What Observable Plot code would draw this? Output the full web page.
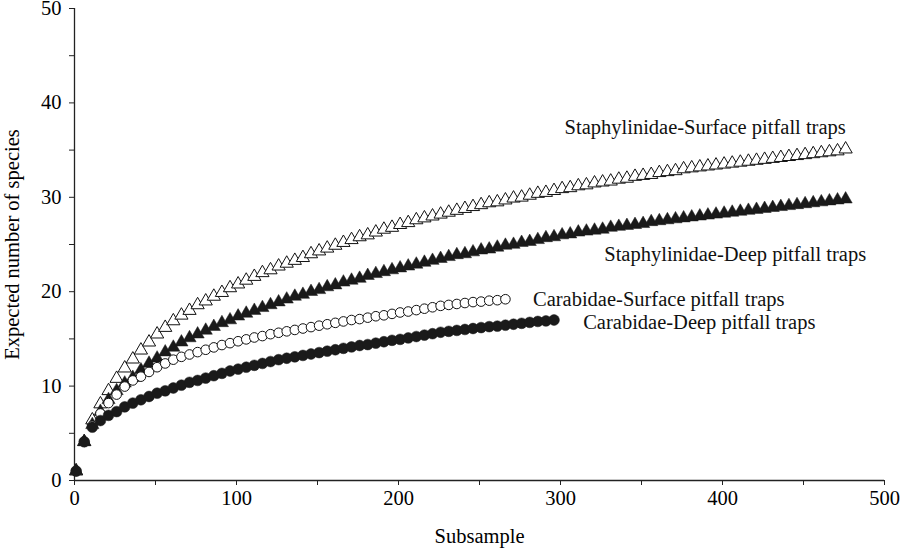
<!DOCTYPE html>
<html>
<head>
<meta charset="utf-8">
<script src="https://cdn.jsdelivr.net/npm/d3@7"></script>
<script src="https://cdn.jsdelivr.net/npm/@observablehq/plot@0.6"></script>
<style>
  html, body { margin: 0; padding: 0; background: #fff; }
  #chart svg { display: block; overflow: visible; }
  #chart svg text { font-family: 'Liberation Serif', 'Times New Roman', serif; }
</style>
</head>
<body>
<div id="chart"></div>
<script>
// Subsample sizes (every 5th individual from 1)
const subsampleStaph = d3.range(1, 477, 5);      // 1 … 476
const subsampleCaraSurface = d3.range(1, 267, 5); // 1 … 266
const subsampleCaraDeep = d3.range(1, 297, 5);    // 1 … 296

// Expected number of species (rarefaction)
const staphSurface = [
  1.0, 4.1, 6.4, 8.1, 9.5, 10.8, 11.9, 12.85, 13.8, 14.65, 15.5, 16.2, 16.9, 17.5, 18.0, 18.6,
  19.0, 19.5, 19.9, 20.4, 20.8, 21.2, 21.6, 22.0, 22.3, 22.7, 23.0, 23.3, 23.6, 24.0, 24.3,
  24.6, 24.9, 25.2, 25.5, 25.8, 26.0, 26.3, 26.6, 26.8, 27.1, 27.3, 27.6, 27.8, 28.0, 28.2,
  28.4, 28.6, 28.8, 29.0, 29.2, 29.4, 29.5, 29.7, 29.9, 30.0, 30.2, 30.4, 30.5, 30.7, 30.9,
  31.0, 31.2, 31.3, 31.5, 31.6, 31.7, 31.9, 32.0, 32.2, 32.3, 32.4, 32.6, 32.7, 32.8, 33.0, 33.1, 33.2,
  33.3, 33.4, 33.5, 33.6, 33.7, 33.8, 33.9, 34.0, 34.1, 34.2, 34.3, 34.4, 34.5, 34.6, 34.7, 34.8, 34.9, 35.1
];
const staphDeep = [
  1.0, 4.1, 5.9, 7.3, 8.55, 9.5, 10.3, 10.9, 11.7, 12.4, 12.95, 13.6, 14.1, 14.65, 15.1, 15.5,
  15.9, 16.3, 16.7, 17.0, 17.4, 17.7, 18.0, 18.3, 18.6, 18.9, 19.2, 19.5, 19.7, 20.0, 20.2,
  20.5, 20.7, 21.0, 21.2, 21.4, 21.7, 21.9, 22.1, 22.3, 22.5, 22.7, 22.9, 23.1, 23.3, 23.5,
  23.7, 23.9, 24.0, 24.2, 24.4, 24.5, 24.7, 24.9, 25.0, 25.2, 25.3, 25.5, 25.7, 25.8, 26.0,
  26.1, 26.3, 26.4, 26.5, 26.6, 26.8, 26.9, 27.0, 27.1, 27.2, 27.4, 27.5, 27.6, 27.7, 27.8, 27.9, 28.0,
  28.1, 28.2, 28.3, 28.4, 28.5, 28.6, 28.7, 28.8, 28.9, 29.0, 29.1, 29.2, 29.3, 29.4, 29.5, 29.6, 29.7, 29.8
];
const caraSurface = [
  1.0, 4.1, 5.8, 7.1, 8.2, 9.1, 9.95, 10.6, 11.0, 11.5, 12.0, 12.4, 12.8, 13.1, 13.35, 13.6,
  13.85, 14.1, 14.35, 14.55, 14.75, 14.95, 15.15, 15.3, 15.5, 15.65, 15.8, 15.95, 16.1, 16.25, 16.4,
  16.55, 16.7, 16.85, 17.0, 17.1, 17.25, 17.4, 17.5, 17.65, 17.8, 17.9, 18.05, 18.2, 18.35, 18.5,
  18.6, 18.7, 18.8, 18.9, 18.95, 19.05, 19.1, 19.2
];
const caraDeep = [
  1.0, 4.1, 5.65, 6.35, 6.9, 7.3, 7.8, 8.2, 8.55, 8.9, 9.25, 9.5, 9.8, 10.1, 10.4, 10.6,
  10.85, 11.1, 11.35, 11.6, 11.8, 12.0, 12.2, 12.4, 12.6, 12.8, 12.95, 13.1, 13.25, 13.4, 13.55,
  13.7, 13.85, 14.0, 14.15, 14.3, 14.4, 14.55, 14.7, 14.85, 14.95, 15.1, 15.25, 15.4, 15.55, 15.7,
  15.8, 15.9, 16.0, 16.1, 16.2, 16.3, 16.35, 16.45, 16.55, 16.65, 16.75, 16.85, 16.9, 17.0
];

// Curve labels and where they start (data units)
const labelText = [
  "Staphylinidae-Surface pitfall traps",
  "Staphylinidae-Deep pitfall traps",
  "Carabidae-Surface pitfall traps",
  "Carabidae-Deep pitfall traps"
];
const labelX = [302.5, 327, 283, 314];
const labelY = [37.4, 23.9, 19.2, 16.7];

// Axis ticks
const xTicks = d3.range(0, 501, 50);
const xTickLabels = ["0", "", "100", "", "200", "", "300", "", "400", "", "500"];
const yTicks = d3.range(0, 51, 5);
const yTickLabels = ["0", "", "10", "", "20", "", "30", "", "40", "", "50"];

const toRows = (xs, ys) => xs.map((x, i) => ({x, y: ys[i]}));
const labels = labelText.map((t, i) => ({t, x: labelX[i], y: labelY[i]}));

const font = "'Liberation Serif', 'Times New Roman', serif";
const fs = 20.5;

const chart = Plot.plot({
  width: 900,
  height: 549,
  marginLeft: 74,
  marginRight: 16,
  marginTop: 8,
  marginBottom: 69,
  style: {fontFamily: font, fontSize: fs + "px", color: "#000", background: "#fff"},
  x: {domain: [0, 500]},
  y: {domain: [0, 50]},
  marks: [
    Plot.axisX({
      ticks: xTicks,
      tickFormat: (d, i) => xTickLabels[i],
      tickSize: 5,
      tickPadding: 5,
      fontSize: fs,
      fontFamily: font,
      stroke: "#222",
      label: "Subsample",
      labelAnchor: "center",
      labelArrow: "none",
      labelOffset: 62
    }),
    Plot.axisY({
      ticks: yTicks,
      tickFormat: (d, i) => yTickLabels[i],
      tickSize: 5,
      tickPadding: 8,
      fontSize: fs,
      fontFamily: font,
      stroke: "#222",
      label: "Expected number of species",
      labelAnchor: "center",
      labelArrow: "none",
      labelOffset: 70
    }),
    Plot.ruleY([0], {stroke: "#222", strokeWidth: 1.3}),
    Plot.ruleX([0], {stroke: "#222", strokeWidth: 1.3}),
    Plot.dot(toRows(subsampleStaph, staphSurface), {
      x: "x", y: "y", symbol: "triangle", r: 4.9,
      fill: "#fff", stroke: "#111", strokeWidth: 1
    }),
    Plot.dot(toRows(subsampleStaph, staphDeep), {
      x: "x", y: "y", symbol: "triangle", r: 4.9,
      fill: "#1a1a1a", stroke: "#1a1a1a", strokeWidth: 0.5
    }),
    Plot.dot(toRows(subsampleCaraSurface, caraSurface), {
      x: "x", y: "y", symbol: "circle", r: 4.8,
      fill: "#fff", stroke: "#111", strokeWidth: 1
    }),
    Plot.dot(toRows(subsampleCaraDeep, caraDeep), {
      x: "x", y: "y", symbol: "circle", r: 5.4,
      fill: "#1a1a1a", stroke: "#1a1a1a", strokeWidth: 0.5
    }),
    Plot.text(labels, {
      x: "x", y: "y", text: "t", textAnchor: "start",
      fontSize: fs, fontFamily: font, fill: "#111"
    })
  ]
});

document.getElementById("chart").appendChild(chart);
</script>
</body>
</html>
